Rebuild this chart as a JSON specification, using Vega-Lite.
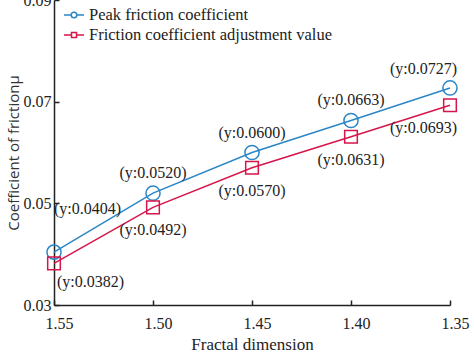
{
  "$schema": "https://vega.github.io/schema/vega-lite/v6.json",
  "width": 396,
  "height": 305,
  "autosize": "none",
  "padding": {"left": 54, "top": 0, "right": 24, "bottom": 50},
  "background": "white",
  "config": {
    "view": {"stroke": null},
    "font": "Liberation Serif",
    "legend": {"labelFont": "Liberation Serif", "labelFontSize": 16, "labelLimit": 0},
    "axis": {
      "grid": false,
      "domainColor": "#222",
      "domainWidth": 1.5,
      "tickColor": "#222",
      "tickWidth": 1.5,
      "tickSize": -5,
      "labelFont": "Liberation Serif",
      "labelFontSize": 16,
      "labelColor": "#222",
      "titleFont": "Liberation Serif",
      "titleFontSize": 17,
      "titleFontWeight": "normal",
      "titleColor": "#222"
    }
  },
  "data": {
    "values": [
      {"fd": 1.55, "series": "Peak friction coefficient", "mu": 0.0404, "label": "(y:0.0404)"},
      {"fd": 1.50, "series": "Peak friction coefficient", "mu": 0.0520, "label": "(y:0.0520)"},
      {"fd": 1.45, "series": "Peak friction coefficient", "mu": 0.0600, "label": "(y:0.0600)"},
      {"fd": 1.40, "series": "Peak friction coefficient", "mu": 0.0663, "label": "(y:0.0663)"},
      {"fd": 1.35, "series": "Peak friction coefficient", "mu": 0.0727, "label": "(y:0.0727)"},
      {"fd": 1.55, "series": "Friction coefficient adjustment value", "mu": 0.0382, "label": "(y:0.0382)"},
      {"fd": 1.50, "series": "Friction coefficient adjustment value", "mu": 0.0492, "label": "(y:0.0492)"},
      {"fd": 1.45, "series": "Friction coefficient adjustment value", "mu": 0.0570, "label": "(y:0.0570)"},
      {"fd": 1.40, "series": "Friction coefficient adjustment value", "mu": 0.0631, "label": "(y:0.0631)"},
      {"fd": 1.35, "series": "Friction coefficient adjustment value", "mu": 0.0693, "label": "(y:0.0693)"}
    ]
  },
  "encoding": {
    "x": {
      "field": "fd", "type": "quantitative",
      "scale": {"domain": [1.55, 1.35], "nice": false, "zero": false},
      "axis": {"values": [1.55, 1.5, 1.45, 1.4, 1.35], "format": ".2f", "title": "Fractal dimension", "labelPadding": 15, "labelOffset": 5, "titlePadding": 5, "labelFlush": false}
    },
    "y": {
      "field": "mu", "type": "quantitative",
      "scale": {"domain": [0.03, 0.09], "nice": false, "zero": false},
      "axis": {"values": [0.03, 0.05, 0.07, 0.09], "format": ".2f", "title": "Coefficient of frictionμ", "titleFont": "Open Sans", "titleFontSize": 15, "titleColor": "#333", "labelPadding": 8, "titlePadding": 2}
    }
  },
  "layer": [
    {
      "mark": {"type": "line", "strokeWidth": 1.5},
      "encoding": {
        "color": {
          "field": "series", "type": "nominal",
          "scale": {"domain": ["Peak friction coefficient", "Friction coefficient adjustment value"], "range": ["#2a86c6", "#d6154a"]},
          "legend": {
            "title": null,
            "orient": "none",
            "legendX": 9,
            "legendY": 4,
            "labelFont": "Liberation Serif",
            "labelFontSize": 16.5,
            "labelColor": "#222",
            "labelLimit": 0,
            "symbolSize": 400,
            "symbolStrokeWidth": 1.5,
            "rowPadding": 0,
            "labelOffset": 4,
            "encode": {
              "symbols": {
                "update": {
                  "shape": {"signal": "datum.index === 0 ? 'M-1,0H-0.28M0.28,0H1M0.28,0A0.28,0.28,0,1,1,-0.28,0A0.28,0.28,0,1,1,0.28,0' : 'M-1,0H-0.25M0.25,0H1M-0.25,-0.25H0.25V0.25H-0.25Z'"},
                  "fill": {"value": "transparent"}
                }
              }
            }
          }
        }
      }
    },
    {
      "transform": [{"filter": "datum.series == 'Peak friction coefficient'"}],
      "mark": {"type": "point", "shape": "circle", "filled": false, "size": 200, "strokeWidth": 1.5, "opacity": 1},
      "encoding": {
        "color": {"field": "series", "type": "nominal", "legend": null}
      }
    },
    {
      "transform": [{"filter": "datum.series != 'Peak friction coefficient'"}],
      "mark": {"type": "point", "shape": "square", "filled": false, "size": 160, "strokeWidth": 1.5, "opacity": 1},
      "encoding": {
        "color": {"field": "series", "type": "nominal", "legend": null}
      }
    },
    {
      "transform": [{"filter": "datum.series == 'Peak friction coefficient' && datum.fd < 1.54 && datum.fd > 1.36"}],
      "mark": {"type": "text", "fontSize": 16, "dy": -20, "align": "center", "baseline": "middle", "color": "#222"},
      "encoding": {"text": {"field": "label"}}
    },
    {
      "transform": [{"filter": "datum.series == 'Peak friction coefficient' && datum.fd > 1.54"}],
      "mark": {"type": "text", "fontSize": 16, "dy": -43, "dx": 0, "align": "left", "baseline": "middle", "color": "#222"},
      "encoding": {"text": {"field": "label"}}
    },
    {
      "transform": [{"filter": "datum.series == 'Peak friction coefficient' && datum.fd < 1.36"}],
      "mark": {"type": "text", "fontSize": 16, "dy": -19, "dx": 7, "align": "right", "baseline": "middle", "color": "#222"},
      "encoding": {"text": {"field": "label"}}
    },
    {
      "transform": [{"filter": "datum.series != 'Peak friction coefficient' && datum.fd < 1.54 && datum.fd > 1.36"}],
      "mark": {"type": "text", "fontSize": 16, "dy": 23, "align": "center", "baseline": "middle", "color": "#222"},
      "encoding": {"text": {"field": "label"}}
    },
    {
      "transform": [{"filter": "datum.series != 'Peak friction coefficient' && datum.fd > 1.54"}],
      "mark": {"type": "text", "fontSize": 16, "dy": 19, "dx": 3, "align": "left", "baseline": "middle", "color": "#222"},
      "encoding": {"text": {"field": "label"}}
    },
    {
      "transform": [{"filter": "datum.series != 'Peak friction coefficient' && datum.fd < 1.36"}],
      "mark": {"type": "text", "fontSize": 16, "dy": 23, "dx": 7, "align": "right", "baseline": "middle", "color": "#222"},
      "encoding": {"text": {"field": "label"}}
    }
  ]
}
